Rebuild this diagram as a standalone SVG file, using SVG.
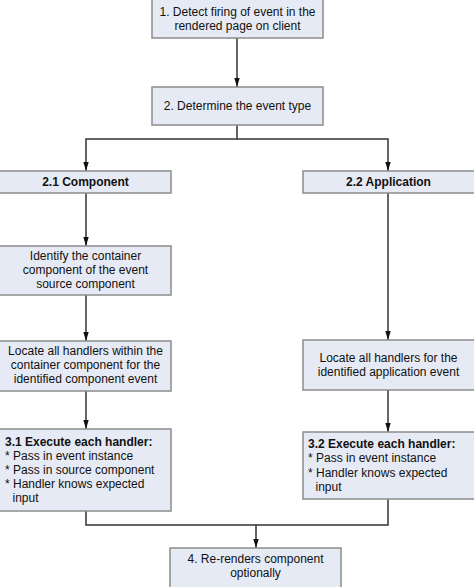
<svg xmlns="http://www.w3.org/2000/svg" width="474" height="587" viewBox="0 0 474 587">
<style>
.box{fill:#e6eaf4;stroke:#8c8c8c;stroke-width:1.5}
text{font-family:"Liberation Sans",Arial,sans-serif;font-size:12px;fill:#111}
.c{text-anchor:middle}
.b{font-weight:bold}
.ln{fill:none;stroke:#333;stroke-width:1.5}
</style>
<defs>
<marker id="ah" viewBox="0 0 10 6" refX="10" refY="3" markerWidth="9" markerHeight="6" orient="auto" markerUnits="userSpaceOnUse">
<path d="M0,0 L10,3 L0,6 z" fill="#111"/>
</marker>
</defs>
<rect width="474" height="587" fill="#fff"/>
<g id="connectors">
<path class="ln" d="M237,38 V87" marker-end="url(#ah)"/>
<path class="ln" d="M237,125 V139 H86 V171" marker-end="url(#ah)"/>
<path class="ln" d="M237,139 H388 V171" marker-end="url(#ah)"/>
<path class="ln" d="M86,193 V246" marker-end="url(#ah)"/>
<path class="ln" d="M86,295 V341" marker-end="url(#ah)"/>
<path class="ln" d="M388,193 V340" marker-end="url(#ah)"/>
<path class="ln" d="M86,391 V429" marker-end="url(#ah)"/>
<path class="ln" d="M388,390 V432" marker-end="url(#ah)"/>
<path class="ln" d="M86,511 V525 H388 V499"/>
<path class="ln" d="M256,525 V548" marker-end="url(#ah)"/>
</g>
<g id="n1">
<rect class="box" x="152" y="-1" width="171" height="39"/>
<text class="c" x="237.5" y="16">1. Detect firing of event in the</text>
<text class="c" x="237.5" y="30">rendered page on client</text>
</g>
<g id="n2">
<rect class="box" x="152" y="87" width="171" height="38"/>
<text class="c" x="237.5" y="110">2. Determine the event type</text>
</g>
<g id="n21">
<rect class="box" x="-1" y="171" width="172" height="22"/>
<text class="c b" x="85.5" y="186">2.1 Component</text>
</g>
<g id="n22">
<rect class="box" x="303" y="171" width="172" height="22"/>
<text class="c b" x="388.5" y="186">2.2 Application</text>
</g>
<g id="nIdentify">
<rect class="box" x="-1" y="246" width="172" height="49"/>
<text class="c" x="85.5" y="260">Identify the container</text>
<text class="c" x="85.5" y="274">component of the event</text>
<text class="c" x="85.5" y="288">source component</text>
</g>
<g id="nLocateC">
<rect class="box" x="-1" y="341" width="172" height="50"/>
<text class="c" x="85.5" y="355">Locate all handlers within the</text>
<text class="c" x="85.5" y="369">container component for the</text>
<text class="c" x="85.5" y="383">identified component event</text>
</g>
<g id="nLocateA">
<rect class="box" x="303" y="340" width="172" height="50"/>
<text class="c" x="388.5" y="362">Locate all handlers for the</text>
<text class="c" x="388.5" y="376">identified application event</text>
</g>
<g id="n31">
<rect class="box" x="-1" y="429" width="172" height="82"/>
<text class="b" x="5" y="446">3.1 Execute each handler:</text>
<text x="5" y="460">* Pass in event instance</text>
<text x="5" y="474">* Pass in source component</text>
<text x="5" y="488">* Handler knows expected</text>
<text x="12.5" y="502">input</text>
</g>
<g id="n32">
<rect class="box" x="303" y="432" width="172" height="67"/>
<text class="b" x="308" y="448">3.2 Execute each handler:</text>
<text x="308" y="462">* Pass in event instance</text>
<text x="308" y="477">* Handler knows expected</text>
<text x="315.5" y="491">input</text>
</g>
<g id="n4">
<rect class="box" x="170" y="548" width="171" height="40"/>
<text class="c" x="255.5" y="563">4. Re-renders component</text>
<text class="c" x="255.5" y="577">optionally</text>
</g>
</svg>
